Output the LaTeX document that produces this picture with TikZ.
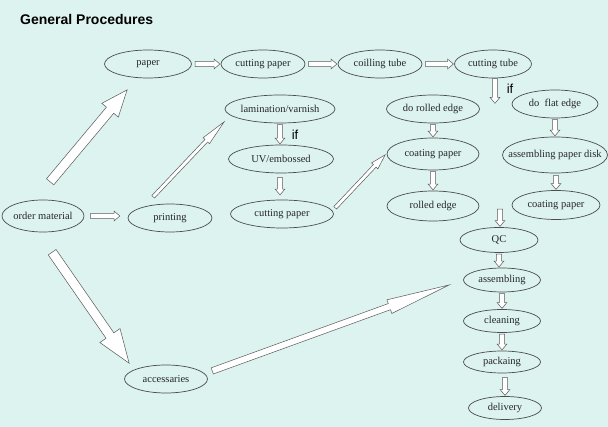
\documentclass[tikz,border=0pt]{standalone}
\usepackage{fontspec}
\setmainfont{Liberation Serif}
\setsansfont{Liberation Sans}
\usetikzlibrary{shapes.geometric,shapes.arrows,calc}
\definecolor{bgcyan}{RGB}{220,243,240}
% hollow block arrow from tail point to tip point
\newcommand{\blockarrow}[3][]{\path let \p1=(#2), \p2=(#3), \n1={veclen(\x2-\x1,\y2-\y1)}, \n2={atan2(\y2-\y1,\x2-\x1)} in node[barrow,#1,minimum height=\n1,rotate=\n2,anchor=tail] at (\p1) {};}
\begin{document}
\begin{tikzpicture}[x=1pt,y=-1pt,
    stepbox/.style={ellipse,draw=black!70,line width=0.7pt,inner sep=0pt,minimum height=28pt},
    every label/.style={font=\fontsize{10.5}{12}\selectfont,text=black!85,inner sep=0pt},
    barrow/.style={single arrow,draw=black!65,fill=white,line width=0.5pt,inner sep=0pt,inner ysep=2.3pt,minimum width=0pt,single arrow head extend=2.3pt,single arrow tip angle=80},
    bigarrow/.style={inner ysep=4.5pt,single arrow head extend=6pt,single arrow tip angle=44},
    thinarrow/.style={inner ysep=1.6pt,single arrow head extend=2.5pt},
    iftext/.style={font=\sffamily\fontsize{13}{15}\selectfont,inner sep=0pt}]
  \fill[bgcyan] (0,0) rectangle (608,427);
  \node[font=\sffamily\bfseries\fontsize{14}{16}\selectfont,anchor=west,inner sep=0pt] (title) at (20,20) {General Procedures};
  % top row
  \node[stepbox,minimum width=87pt,label=center:paper] (paper) at (148,64) {};
  \node[stepbox,minimum width=84pt,label=center:cutting paper] (cutpaperA) at (263,64) {};
  \node[stepbox,minimum width=84pt,label=center:coilling tube] (coiltube) at (380,64) {};
  \node[stepbox,minimum width=77pt,label=center:cutting tube] (cuttube) at (493,64) {};
  % left column
  \node[stepbox,minimum width=82pt,minimum height=32pt,label=center:order material] (order) at (43,216) {};
  \node[stepbox,minimum width=84pt,label=center:printing] (printing) at (170,218) {};
  \node[stepbox,minimum width=83pt,label=center:accessaries] (access) at (166,379) {};
  % printing branch
  \node[stepbox,minimum width=110pt,label=center:lamination/varnish] (lamin) at (280,109) {};
  \node[stepbox,minimum width=105pt,label=center:UV/embossed] (uvemb) at (281,159) {};
  \node[stepbox,minimum width=103pt,label=center:cutting paper] (cutpaperB) at (282,214) {};
  % tube branches
  \node[stepbox,minimum width=93pt,label=center:do rolled edge] (dorolled) at (433,109) {};
  \node[stepbox,minimum width=92pt,minimum height=32pt,label=center:coating paper] (coatA) at (433,154) {};
  \node[stepbox,minimum width=92pt,minimum height=30pt,label=center:rolled edge] (rolled) at (433,206) {};
  \node[stepbox,minimum width=86pt,label={center:do\ \ flat edge}] (doflat) at (555,104) {};
  \node[stepbox,minimum width=105pt,minimum height=36pt,label=center:assembling paper disk] (disk) at (555,155) {};
  \node[stepbox,minimum width=88pt,minimum height=29pt,label=center:coating paper] (coatB) at (556,205) {};
  % final column
  \node[stepbox,minimum width=78pt,minimum height=25pt,label=center:QC] (qc) at (499,240) {};
  \node[stepbox,minimum width=77pt,minimum height=24pt,label=center:assembling] (assembling) at (502,280) {};
  \node[stepbox,minimum width=77pt,minimum height=23pt,label=center:cleaning] (cleaning) at (502,321) {};
  \node[stepbox,minimum width=77pt,minimum height=22pt,label=center:packaing] (packaing) at (502,362) {};
  \node[stepbox,minimum width=73pt,minimum height=23pt,label=center:delivery] (delivery) at (505,408) {};
  \node[iftext] (ifA) at (510,89) {if};
  \node[iftext] (ifB) at (295,135) {if};
  \coordinate (split) at (495,103);
  \coordinate (mergeqc) at (500,209);
  % connectors
  \foreach \a/\b in {paper/cutpaperA,cutpaperA/coiltube,coiltube/cuttube}
    \blockarrow{$(\a.east)+(3,0)$}{$(\b.west)+(-1,0)$};
  \blockarrow{$(order.east)+(6,0)$}{$(printing.west |- order.east)+(-8,0)$}
  \blockarrow{$(cuttube.south)+(2,0)$}{split}
  \foreach \a/\b in {dorolled/coatA,coatA/rolled,doflat/disk,lamin/uvemb,qc/assembling,assembling/cleaning,cleaning/packaing}
    \blockarrow{$(\a.south)+(0,1)$}{$(\a.south |- \b.north)+(0,-1)$};
  \blockarrow{$(disk.south)+(1,2)$}{$(disk.south |- coatB.north)+(1,-1)$}
  \blockarrow{$(uvemb.south)+(-1,4)$}{$(uvemb.south |- cutpaperB.north)+(-1,-5)$}
  \blockarrow{mergeqc}{$(mergeqc |- qc.north)+(0,-1)$}
  \blockarrow{$(packaing.south)+(3,4)$}{$(delivery.north)+(0,-1)$}
  \blockarrow[bigarrow]{$(order)+(7,-34)$}{$(paper)+(-21,26)$}
  \blockarrow[bigarrow,single arrow head extend=7.5pt,single arrow tip angle=40]{$(order)+(9,36)$}{$(access)+(-37,-16)$}
  \blockarrow[thinarrow,single arrow tip angle=19]{$(printing)+(-17,-21)$}{$(lamin)+(-56,13)$}
  \blockarrow[thinarrow,single arrow tip angle=32]{$(cutpaperB)+(53,-6)$}{$(coatA)+(-48,1)$}
  \blockarrow[inner ysep=3pt,single arrow head extend=4pt,single arrow tip angle=13]{$(access)+(46,-8)$}{$(assembling)+(-53,5)$}
\end{tikzpicture}
\end{document}
